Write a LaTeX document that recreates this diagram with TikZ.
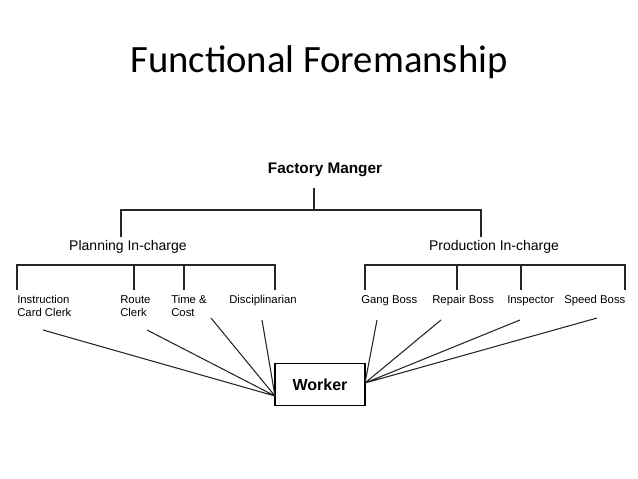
\documentclass[tikz,border=0pt]{standalone}
\usepackage{fontspec}
\setmainfont{Liberation Sans}
\newfontfamily\titlefont{Carlito}
\begin{document}
\begin{tikzpicture}[x=0.75pt,y=-0.75pt,
  lbl/.style={font=\fontsize{8.5}{10}\selectfont,align=left,inner sep=0pt,anchor=north west},
  head/.style={font=\fontsize{10.5}{12}\selectfont,inner sep=0pt},
  ln/.style={line width=0.8pt,black!85}]
\useasboundingbox (0,0) rectangle (638,478);
\node[font=\titlefont\fontsize{29}{33}\selectfont] (title) at (319,62) {Functional Foremanship};
\node[head,font=\bfseries\fontsize{11.5}{13}\selectfont] (fm) at (325,170) {Factory Manger};
\node[head] (pl) at (128,247) {Planning In-charge};
\node[head] (pr) at (494,247) {Production In-charge};
\coordinate (fmb) at (314,188);
\coordinate (fmj) at (314,210);
\coordinate (l1) at (121,210); \coordinate (r1) at (481,210);
\coordinate (l2) at (121,237); \coordinate (r2) at (481,237);
\draw[ln] (fmb) -- (fmj) (l2) -- (l1) -- (r1) -- (r2);
\draw[ln] (17,290) -- (17,265) -- (275,265) -- (275,290);
\draw[ln] (134,265) -- (134,290) (184,265) -- (184,290);
\draw[ln] (365,290) -- (365,265) -- (625,265) -- (625,290);
\draw[ln] (457,265) -- (457,290) (521,265) -- (521,290);
\node[lbl] (a1) at (17,295) {Instruction\\Card Clerk};
\node[lbl] (a2) at (120,295) {Route\\Clerk};
\node[lbl] (a3) at (171,295) {Time \&\\Cost};
\node[lbl] (a4) at (229,295) {Disciplinarian};
\node[lbl] (b1) at (361,295) {Gang Boss};
\node[lbl] (b2) at (432,295) {Repair Boss};
\node[lbl] (b3) at (507,295) {Inspector};
\node[lbl] (b4) at (564,295) {Speed Boss};
\node[draw,line width=0.8pt,minimum width=67.5pt,minimum height=32pt,inner sep=0pt,
  font=\bfseries\fontsize{12}{14}\selectfont] (w) at (320,384.5) {Worker};
\coordinate (wl) at (275,396);
\coordinate (wr) at (365,383);
\draw[ln] (43,330) -- (wl) (147,330) -- (wl) (211,318) -- (wl) (262,320) -- (wl);
\draw[ln] (377,320) -- (wr) (441,320) -- (wr) (520,320) -- (wr) (597,318) -- (wr);
\end{tikzpicture}
\end{document}
